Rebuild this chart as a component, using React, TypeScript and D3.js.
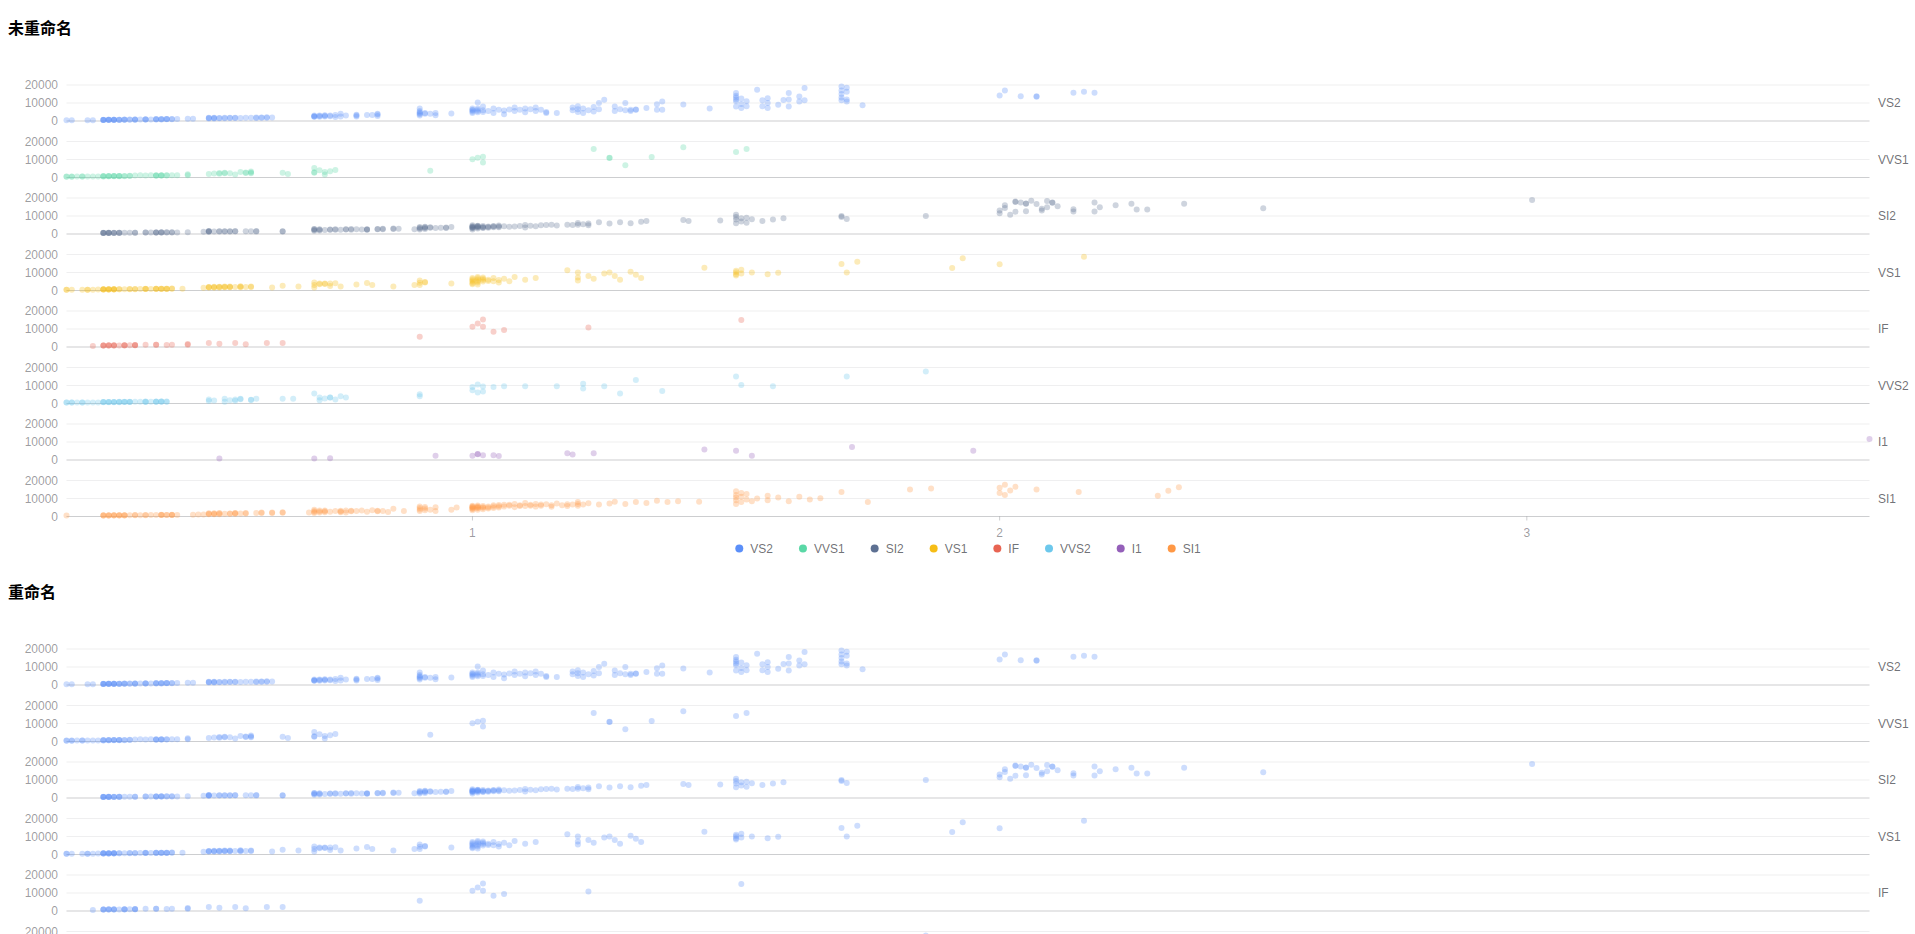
import React from 'react';
import * as d3 from 'd3';

type P = [number, number];

const clarities = ['VS2', 'VVS1', 'SI2', 'VS1', 'IF', 'VVS2', 'I1', 'SI1'];
const palette = ['#5B8FF9', '#5AD8A6', '#5D7092', '#F6BD16', '#E86452', '#6DC8EC', '#945FB9', '#FF9845'];
const titles = ['未重命名', '重命名'];
const yTicks = [0, 10000, 20000];
const xTicks = [1, 2, 3];

const vs2: P[] = [
  [0.23,350],[0.24,400],[0.27,450],[0.28,480],
  [0.3,550],[0.3,620],[0.3,680],[0.3,600],[0.31,580],[0.31,640],[0.31,700],[0.31,650],
  [0.32,600],[0.32,650],[0.32,720],[0.32,680],[0.33,620],[0.33,700],[0.33,760],
  [0.34,650],[0.34,720],[0.34,800],[0.35,700],[0.35,820],[0.36,750],[0.36,820],[0.36,900],
  [0.37,850],[0.38,800],[0.38,900],[0.38,950],[0.39,900],[0.4,850],[0.4,950],[0.4,1050],
  [0.41,900],[0.41,1000],[0.41,1100],[0.42,950],[0.42,1050],[0.42,1150],[0.43,1000],[0.43,1100],
  [0.44,1100],[0.46,1200],[0.47,1250],
  [0.5,1400],[0.5,1600],[0.5,1800],[0.51,1450],[0.51,1650],[0.51,1850],[0.52,1500],[0.52,1700],
  [0.53,1550],[0.53,1750],[0.54,1600],[0.54,1800],[0.55,1650],[0.55,1850],[0.56,1700],[0.57,1800],
  [0.58,1750],[0.59,1700],[0.59,1900],[0.6,1800],[0.6,2000],[0.61,1850],[0.61,2050],[0.62,1900],
  [0.7,2300],[0.7,2700],[0.7,3000],[0.7,2500],[0.71,2400],[0.71,2800],[0.71,3100],
  [0.72,2500],[0.72,2900],[0.72,3200],[0.73,2600],[0.73,3000],[0.74,2200],[0.74,3400],
  [0.75,2500],[0.75,4000],[0.76,3000],[0.78,2500],[0.78,3000],[0.78,3500],[0.8,3300],[0.81,3300],
  [0.82,2800],[0.82,3600],[0.82,4000],
  [0.9,3000],[0.9,3800],[0.9,4300],[0.9,4800],[0.9,5500],[0.9,7000],[0.91,4000],[0.91,4500],
  [0.92,4000],[0.93,3200],[0.93,4400],[0.96,4100],
  [1,4500],[1,5200],[1,5800],[1,6300],[1,7000],[1.01,4800],[1.01,5500],[1.01,6200],[1.01,7000],[1.01,10300],
  [1.02,5000],[1.02,6000],[1.02,8000],[1.03,5500],[1.04,7000],[1.04,4500],[1.05,6200],[1.06,3700],
  [1.06,5800],[1.07,6400],[1.08,7500],[1.08,5500],[1.09,6300],[1.1,7000],[1.1,4900],[1.11,6500],
  [1.12,7500],[1.12,5600],[1.13,6200],[1.14,5000],[1.14,4500],[1.16,4400],
  [1.19,6000],[1.19,7500],[1.2,5000],[1.2,6500],[1.2,8200],[1.21,6900],[1.21,4400],[1.22,6000],
  [1.23,7800],[1.23,5300],[1.24,10000],[1.24,6500],[1.25,11800],[1.27,8000],[1.27,5500],[1.28,6500],
  [1.29,10000],[1.29,6000],[1.3,5500],[1.3,6300],[1.31,6200],[1.31,6400],[1.33,7200],[1.35,9300],
  [1.35,6300],[1.36,10900],[1.36,6300],[1.4,9100],[1.45,6900],
  [1.5,11000],[1.5,12000],[1.5,13000],[1.5,14000],[1.5,15500],[1.5,8000],[1.51,12500],[1.51,9500],
  [1.51,7200],[1.52,11000],[1.52,8200],[1.54,17400],[1.55,11500],[1.55,8200],[1.56,12700],[1.56,10000],
  [1.56,7200],[1.58,9000],[1.59,11600],[1.6,15500],[1.6,12000],[1.6,8100],[1.62,13600],[1.62,10900],
  [1.63,18300],[1.63,11500],[1.7,19200],[1.7,17000],[1.7,15000],[1.7,13000],[1.7,11500],
  [1.71,18500],[1.71,16200],[1.71,12000],[1.71,10900],[1.74,8800],
  [2,14200],[2.01,17000],[2.04,13700],[2.07,13700],[2.07,13500],[2.14,15700],[2.16,16200],[2.18,15700],
];

const vvs1: P[] = [
  [0.23,450],[0.23,500],[0.24,480],[0.24,520],[0.25,500],[0.26,500],[0.26,550],[0.27,520],[0.28,540],[0.29,560],
  [0.3,600],[0.3,700],[0.3,800],[0.31,650],[0.31,750],[0.31,850],[0.32,700],[0.32,800],[0.32,880],
  [0.33,720],[0.33,820],[0.33,900],[0.34,750],[0.34,900],[0.35,800],[0.35,950],
  [0.36,1100],[0.37,1200],[0.38,1100],[0.39,1200],[0.4,1000],[0.4,1100],[0.4,1200],
  [0.41,1050],[0.41,1150],[0.41,1250],[0.42,1100],[0.42,1200],[0.43,1200],[0.44,1250],[0.46,1300],[0.46,1800],
  [0.5,2000],[0.51,2200],[0.52,2100],[0.52,2500],[0.53,2300],[0.53,2700],[0.54,2400],[0.55,1700],
  [0.56,3000],[0.57,2500],[0.57,2800],[0.58,2300],[0.58,2800],[0.58,3300],[0.64,2700],[0.65,2000],
  [0.7,5300],[0.7,2900],[0.7,2600],[0.71,4000],[0.72,3100],[0.72,1700],[0.73,3500],[0.74,4100],
  [0.92,3700],[1,10100],[1.01,11000],[1.02,11500],[1.02,8300],
  [1.23,15900],[1.26,10900],[1.26,11000],[1.29,6800],[1.34,11400],[1.4,16800],[1.5,14200],[1.52,15900],
];

const si2: P[] = [
  [0.3,500],[0.3,550],[0.3,600],[0.3,650],[0.31,520],[0.31,580],[0.31,630],[0.31,680],
  [0.32,550],[0.32,620],[0.32,690],[0.33,560],[0.33,640],[0.33,700],[0.34,650],[0.35,700],
  [0.36,700],[0.36,750],[0.38,800],[0.38,850],[0.39,800],[0.4,800],[0.4,850],[0.4,900],
  [0.41,820],[0.41,880],[0.41,940],[0.42,850],[0.42,920],[0.43,870],[0.43,940],[0.44,900],[0.46,950],
  [0.49,1300],[0.5,1300],[0.5,1400],[0.5,1500],[0.5,1600],[0.51,1400],[0.52,1400],[0.52,1500],
  [0.53,1420],[0.53,1520],[0.54,1450],[0.54,1550],[0.55,1480],[0.55,1580],[0.57,1500],[0.58,1500],
  [0.59,1400],[0.59,1600],[0.64,1450],[0.64,1500],
  [0.7,1800],[0.7,2200],[0.7,2600],[0.7,2800],[0.71,1900],[0.71,2400],[0.71,2700],[0.72,2200],
  [0.73,2300],[0.73,2500],[0.74,2400],[0.74,2600],[0.75,2300],[0.76,2500],[0.76,2700],
  [0.77,2400],[0.77,2800],[0.78,2600],[0.79,2500],[0.8,2300],[0.8,2500],[0.8,2700],
  [0.82,2600],[0.82,2800],[0.83,2700],[0.83,2900],[0.85,2800],[0.85,3000],[0.86,2900],
  [0.89,2700],[0.9,2500],[0.9,3000],[0.9,3500],[0.9,3900],[0.91,2800],[0.91,3300],[0.91,3700],[0.91,4000],
  [0.92,3800],[0.92,3500],[0.93,3400],[0.94,3500],[0.95,3600],[0.95,3300],[0.96,3900],
  [1,2500],[1,3200],[1,3800],[1,4300],[1,4800],[1,3500],[1,4000],[1.01,3000],[1.01,3600],[1.01,4200],[1.01,4600],
  [1.01,3900],[1.01,4400],[1.02,3300],[1.02,3900],[1.02,4400],[1.02,3600],[1.03,3500],[1.03,4200],[1.03,3900],
  [1.04,3700],[1.04,4500],[1.04,4100],[1.05,3800],[1.05,4700],[1.05,4200],[1.06,4300],
  [1.07,4000],[1.08,4100],[1.09,4500],[1.1,3600],[1.1,5000],[1.11,4600],[1.12,4300],[1.13,4800],[1.14,5000],
  [1.15,5100],[1.16,4700],[1.18,5200],[1.19,5000],
  [1.2,5200],[1.2,6100],[1.21,5400],[1.22,4800],[1.22,5800],[1.24,6500],[1.26,5900],[1.28,6500],
  [1.3,6000],[1.32,6800],[1.33,7200],[1.4,7800],[1.41,7200],[1.47,7500],
  [1.5,6000],[1.5,8000],[1.5,9500],[1.5,10700],[1.51,7000],[1.51,8800],[1.52,9000],[1.52,6200],
  [1.53,8200],[1.55,7200],[1.57,8000],[1.59,8800],[1.7,10000],[1.7,9500],[1.71,8300],[1.86,10000],
  [2,11500],[2,13000],[2.01,14500],[2.01,16000],[2.02,10700],[2.03,18000],[2.03,17800],[2.03,12400],
  [2.04,17500],[2.05,17000],[2.05,16800],[2.05,12600],[2.06,18500],[2.07,16700],[2.08,14000],[2.08,13000],
  [2.09,18400],[2.09,14800],[2.1,17500],[2.1,17300],[2.11,15400],[2.14,12500],[2.14,13700],
  [2.18,17500],[2.18,12500],[2.19,14800],[2.22,16000],[2.25,16800],[2.26,13600],[2.28,13600],
  [2.35,16800],[2.5,14300],[3.01,18900],
];

const vs1: P[] = [
  [0.23,400],[0.23,420],[0.24,420],[0.26,450],[0.27,460],[0.27,480],[0.28,480],[0.29,500],
  [0.3,550],[0.3,600],[0.3,650],[0.3,700],[0.31,560],[0.31,620],[0.31,680],[0.31,720],
  [0.32,580],[0.32,640],[0.32,700],[0.32,750],[0.33,650],[0.33,720],[0.34,700],[0.35,720],[0.35,780],
  [0.36,750],[0.36,820],[0.37,800],[0.38,800],[0.38,860],[0.38,920],[0.39,850],
  [0.4,850],[0.4,920],[0.4,980],[0.41,870],[0.41,940],[0.41,1000],[0.42,900],[0.42,960],[0.42,1020],
  [0.43,950],[0.43,1050],[0.45,1000],
  [0.49,1500],[0.5,1600],[0.5,1800],[0.5,2000],[0.51,1650],[0.51,1850],[0.51,2100],
  [0.52,1700],[0.52,1900],[0.52,2150],[0.53,1750],[0.53,1950],[0.53,2200],[0.54,1800],[0.54,2000],[0.54,2250],
  [0.55,1900],[0.56,1850],[0.56,2050],[0.56,2300],[0.57,1900],[0.58,1950],[0.58,2200],
  [0.62,1700],[0.64,2600],[0.67,2200],
  [0.7,1700],[0.7,3000],[0.7,4400],[0.71,3900],[0.71,3500],[0.72,3900],[0.72,3600],[0.73,2500],[0.73,3900],
  [0.74,4000],[0.75,2200],[0.78,3300],[0.8,4200],[0.81,3000],[0.85,2200],
  [0.89,3000],[0.9,3000],[0.9,4300],[0.9,5500],[0.91,4700],[0.91,4500],[0.96,3900],
  [1,4000],[1,5500],[1,7000],[1,3500],[1,4800],[1,6200],[1.01,4500],[1.01,6000],[1.01,7500],[1.01,3300],
  [1.01,5200],[1.01,6800],[1.02,5000],[1.02,6500],[1.02,7200],[1.02,5800],[1.03,6000],[1.03,5300],
  [1.04,5200],[1.04,7000],[1.05,4500],[1.05,5800],
  [1.06,6500],[1.07,5200],[1.08,7500],[1.1,6000],[1.12,7000],[1.18,11300],
  [1.2,10000],[1.2,7200],[1.2,5500],[1.22,8000],[1.23,6500],[1.25,9500],[1.26,10000],[1.27,8000],
  [1.28,6000],[1.3,10400],[1.31,8700],[1.32,7000],[1.44,12700],
  [1.5,9000],[1.5,10200],[1.5,11000],[1.5,8300],[1.51,9500],[1.51,11500],[1.53,10000],[1.56,9000],[1.58,9800],
  [1.7,14700],[1.71,10000],[1.73,16000],[1.91,12500],[1.93,17900],[2,14600],[2.16,18700],
];

const iF: P[] = [
  [0.28,600],[0.3,800],[0.3,850],[0.3,900],[0.31,820],[0.31,870],[0.31,920],[0.32,840],[0.32,890],[0.32,940],
  [0.33,900],[0.34,900],[0.34,960],[0.34,1000],[0.35,950],[0.36,950],[0.36,1000],[0.36,1050],
  [0.38,1200],[0.4,1200],[0.4,1250],[0.42,1150],[0.43,1200],[0.46,1300],[0.46,1600],
  [0.5,2200],[0.52,1800],[0.55,2200],[0.57,1500],[0.61,2200],[0.64,2200],
  [0.9,5700],[1,11300],[1.01,13100],[1.02,15300],[1.02,11300],[1.04,8500],
  [1.06,9500],[1.22,10900],[1.51,15000],
];

const vvs2: P[] = [
  [0.23,500],[0.23,550],[0.24,520],[0.24,570],[0.25,550],[0.26,560],[0.26,600],[0.27,580],[0.28,600],[0.29,620],
  [0.3,700],[0.3,780],[0.3,850],[0.31,720],[0.31,800],[0.31,870],[0.32,740],[0.32,820],[0.32,890],
  [0.33,760],[0.33,840],[0.33,910],[0.34,780],[0.34,860],[0.34,930],[0.35,800],[0.35,880],[0.35,950],
  [0.36,950],[0.37,1000],[0.38,900],[0.38,980],[0.38,1050],[0.39,1000],[0.4,950],[0.4,1030],[0.4,1100],
  [0.41,970],[0.41,1050],[0.41,1120],[0.42,1000],[0.42,1100],
  [0.5,1400],[0.5,2200],[0.51,1600],[0.53,2700],[0.53,1000],[0.54,1800],[0.55,1500],[0.55,2200],
  [0.56,2600],[0.56,2400],[0.58,2000],[0.58,2100],[0.59,2700],[0.64,2700],[0.66,2700],
  [0.7,5500],[0.71,3300],[0.71,1800],[0.72,2800],[0.73,3300],[0.73,3400],[0.74,2200],[0.75,4000],[0.76,3300],
  [0.9,4000],[0.9,5200],[1,7400],[1,9200],[1.01,10500],[1.01,6100],[1.02,9400],[1.02,6700],[1.04,9200],
  [1.06,9600],[1.1,9600],[1.16,9600],[1.21,8300],[1.21,11000],[1.25,9600],[1.28,5600],[1.31,13000],
  [1.36,6900],[1.5,15000],[1.51,10300],[1.57,9600],[1.71,15000],[1.86,17800],
];

const i1: P[] = [
  [0.52,900],[0.7,900],[0.73,1000],[0.93,2400],[1,2400],[1.01,3300],[1.01,3200],[1.02,2700],[1.04,2600],[1.05,2200],
  [1.18,3800],[1.19,3100],[1.23,3800],[1.44,5800],[1.5,5200],[1.53,2400],[1.72,7200],[1.95,5200],[3.65,11668],
];

const si1: P[] = [
  [0.23,500],[0.3,550],[0.3,600],[0.3,650],[0.31,560],[0.31,620],[0.31,670],[0.32,580],[0.32,640],[0.32,690],
  [0.33,600],[0.33,660],[0.33,710],[0.34,620],[0.34,680],[0.34,730],[0.35,700],[0.36,720],[0.36,780],[0.37,750],
  [0.38,760],[0.38,820],[0.39,800],[0.4,800],[0.41,800],[0.41,860],[0.41,920],[0.42,820],[0.42,880],
  [0.43,840],[0.43,900],[0.43,960],[0.44,900],[0.47,1000],[0.48,1050],[0.49,1100],
  [0.5,1200],[0.5,1500],[0.5,1800],[0.51,1250],[0.51,1550],[0.51,1850],[0.52,1300],[0.52,1600],[0.52,1900],
  [0.53,1500],[0.54,1550],[0.54,1700],[0.55,1500],[0.55,1750],[0.55,2000],[0.56,1600],[0.57,1700],[0.57,1900],
  [0.59,1900],[0.6,2000],[0.6,2200],[0.62,2000],[0.62,2200],[0.64,2100],[0.64,2300],
  [0.69,2200],[0.7,1900],[0.7,2500],[0.7,3000],[0.7,3700],[0.71,2200],[0.71,2800],[0.71,3300],
  [0.72,2300],[0.72,2900],[0.72,3400],[0.73,2600],[0.74,3000],[0.75,2400],[0.75,2800],[0.75,3200],
  [0.76,3400],[0.76,2200],[0.77,2900],[0.77,3200],[0.78,3000],[0.79,3400],[0.8,2600],[0.81,3500],
  [0.82,2900],[0.82,3200],[0.83,3000],[0.84,2500],[0.85,4300],[0.87,3100],
  [0.9,3100],[0.9,3900],[0.9,4700],[0.9,5600],[0.91,3500],[0.91,4400],[0.91,5300],[0.92,3700],
  [0.93,5100],[0.93,3100],[0.96,3700],[0.97,5000],
  [1,3500],[1,4200],[1,5000],[1,5500],[1,6000],[1,4500],[1,5200],[1.01,3800],[1.01,4600],[1.01,5300],[1.01,6100],
  [1.01,4900],[1.01,5600],[1.02,4000],[1.02,4900],[1.02,5800],[1.02,5200],[1.03,4500],[1.03,5500],[1.03,5000],
  [1.04,4700],[1.04,6200],[1.04,5500],[1.05,5000],[1.05,6400],[1.05,5700],
  [1.06,5500],[1.06,6500],[1.07,6000],[1.07,6500],[1.08,5200],[1.08,7000],[1.09,6200],[1.09,5800],[1.1,5800],[1.1,7500],
  [1.11,6500],[1.11,6000],[1.12,5500],[1.12,7000],[1.13,6000],[1.13,6600],[1.14,6800],[1.15,5400],[1.15,6200],
  [1.16,7200],[1.17,6200],[1.18,5800],[1.18,6800],[1.19,6600],
  [1.2,6000],[1.2,7000],[1.2,8000],[1.21,6700],[1.22,7400],[1.24,6700],[1.26,7200],[1.27,8200],[1.29,7000],
  [1.31,8000],[1.33,7500],[1.35,8700],[1.37,8100],[1.39,8500],[1.43,8200],
  [1.5,7000],[1.5,9000],[1.5,10500],[1.5,12000],[1.5,14000],[1.51,8000],[1.51,11000],[1.51,13000],
  [1.52,9500],[1.52,12500],[1.53,8500],[1.54,10000],[1.56,9000],[1.56,11500],[1.58,10500],[1.6,8500],
  [1.62,11000],[1.64,9500],[1.66,10200],[1.7,13600],[1.75,8100],[1.83,15000],[1.87,15600],
  [2,13000],[2,16000],[2.01,17600],[2.01,12000],[2.02,14500],[2.03,16500],[2.07,15000],[2.15,13600],
  [2.3,11500],[2.32,14300],[2.34,16300],
];

const seriesData: P[][] = [vs2, vvs1, si2, vs1, iF, vvs2, i1, si1];

const FONT = '"Liberation Sans", Arial, Helvetica, sans-serif';
const CJK = '"Noto Sans CJK SC", "Liberation Sans", sans-serif';
const INK = '#1D2129';
const VIEW_W = 1915;
const VIEW_H = 934;

let measureCtx: CanvasRenderingContext2D | null = null;
function textWidth(s: string, size = 12): number {
  if (typeof document !== 'undefined') {
    if (!measureCtx) measureCtx = document.createElement('canvas').getContext('2d');
    if (measureCtx) {
      measureCtx.font = `${size}px ${FONT}`;
      return measureCtx.measureText(s).width;
    }
  }
  return s.length * size * 0.6;
}

const allCarats = seriesData.flat().map((d) => d[0]);
const xDomain = d3.extent(allCarats) as [number, number];

function Chart({ dy, title, mono }: { dy: number; title: string; mono: boolean }) {
  const left = 66.5;
  const right = 1869.5;
  const firstTop = 85;
  const rowH = 36;
  const rowStep = 56.5;
  const x = d3.scaleLinear().domain(xDomain).range([left, right]);
  const rows = clarities.map((c, i) => {
    const top = firstTop + i * rowStep;
    const y = d3.scaleLinear().domain([0, 20000]).range([top + rowH, top]);
    return { c, i, top, y };
  });
  const bottom = rows[rows.length - 1].y(0);
  const color = (i: number) => (mono ? palette[0] : palette[i]);
  // only elements that can reach the visible page are drawn
  const visible = (yy: number) => yy + dy < VIEW_H + 6;

  const widths = clarities.map((c) => textWidth(c));
  const total = d3.sum(widths) + 15 * clarities.length + 26 * (clarities.length - 1);
  let cursor = (left + right) / 2 - total / 2;
  const legendItems = clarities.map((c, i) => {
    const item = { c, i, x: cursor };
    cursor += 15 + widths[i] + 26;
    return item;
  });
  const legendY = 548.5;

  return (
    <g transform={`translate(0,${dy})`}>
      <text x={8} y={26.7} dominantBaseline="central" fontFamily={CJK} fontWeight="bold" fontSize={16} fill="#000">
        {title}
      </text>
      {rows.filter(({ top }) => visible(top - 6)).map(({ c, i, y }) => (
        <g key={c}>
          {yTicks.map((t) => (
            <line
              key={t}
              x1={left}
              x2={right}
              y1={y(t)}
              y2={y(t)}
              stroke={INK}
              strokeOpacity={t === 0 ? 0.22 : 0.07}
              strokeWidth={1}
            />
          ))}
          {yTicks.filter((t) => visible(y(t))).map((t) => (
            <text
              key={'l' + t}
              x={58}
              y={y(t)}
              textAnchor="end"
              dominantBaseline="central"
              fontFamily={FONT}
              fontSize={12}
              fill={INK}
              fillOpacity={0.45}
            >
              {t}
            </text>
          ))}
          {visible((y(0) + y(20000)) / 2) && (
            <text
              x={1878}
              y={(y(0) + y(20000)) / 2}
              dominantBaseline="central"
              fontFamily={FONT}
              fontSize={12}
              fill={INK}
              fillOpacity={0.65}
            >
              {c}
            </text>
          )}
          {seriesData[i].map((d, k) => (
            <circle key={k} cx={x(d[0])} cy={y(d[1])} r={3} fill={color(i)} fillOpacity={0.3} />
          ))}
        </g>
      ))}
      {visible(533) &&
        xTicks.map((t) => (
          <g key={t}>
            <line x1={x(t)} x2={x(t)} y1={bottom} y2={bottom + 4} stroke={INK} strokeOpacity={0.22} />
            <text
              x={x(t)}
              y={533}
              textAnchor="middle"
              dominantBaseline="central"
              fontFamily={FONT}
              fontSize={12}
              fill={INK}
              fillOpacity={0.45}
            >
              {t}
            </text>
          </g>
        ))}
      {visible(legendY) &&
        legendItems.map(({ c, i, x: lx }) => (
          <g key={c}>
            <circle cx={lx + 4} cy={legendY} r={4} fill={color(i)} />
            <text
              x={lx + 15}
              y={legendY}
              dominantBaseline="central"
              fontFamily={FONT}
              fontSize={12}
              fill={INK}
              fillOpacity={0.65}
            >
              {c}
            </text>
          </g>
        ))}
    </g>
  );
}

export default function App() {
  return (
    <div
      style={{ position: 'fixed', left: 0, top: 0, width: VIEW_W, height: VIEW_H, overflow: 'hidden', background: '#fff' }}
    >
      <svg width={VIEW_W} height={VIEW_H} style={{ display: 'block' }}>
        <Chart dy={0} title={titles[0]} mono={false} />
        <Chart dy={564} title={titles[1]} mono={true} />
      </svg>
    </div>
  );
}
